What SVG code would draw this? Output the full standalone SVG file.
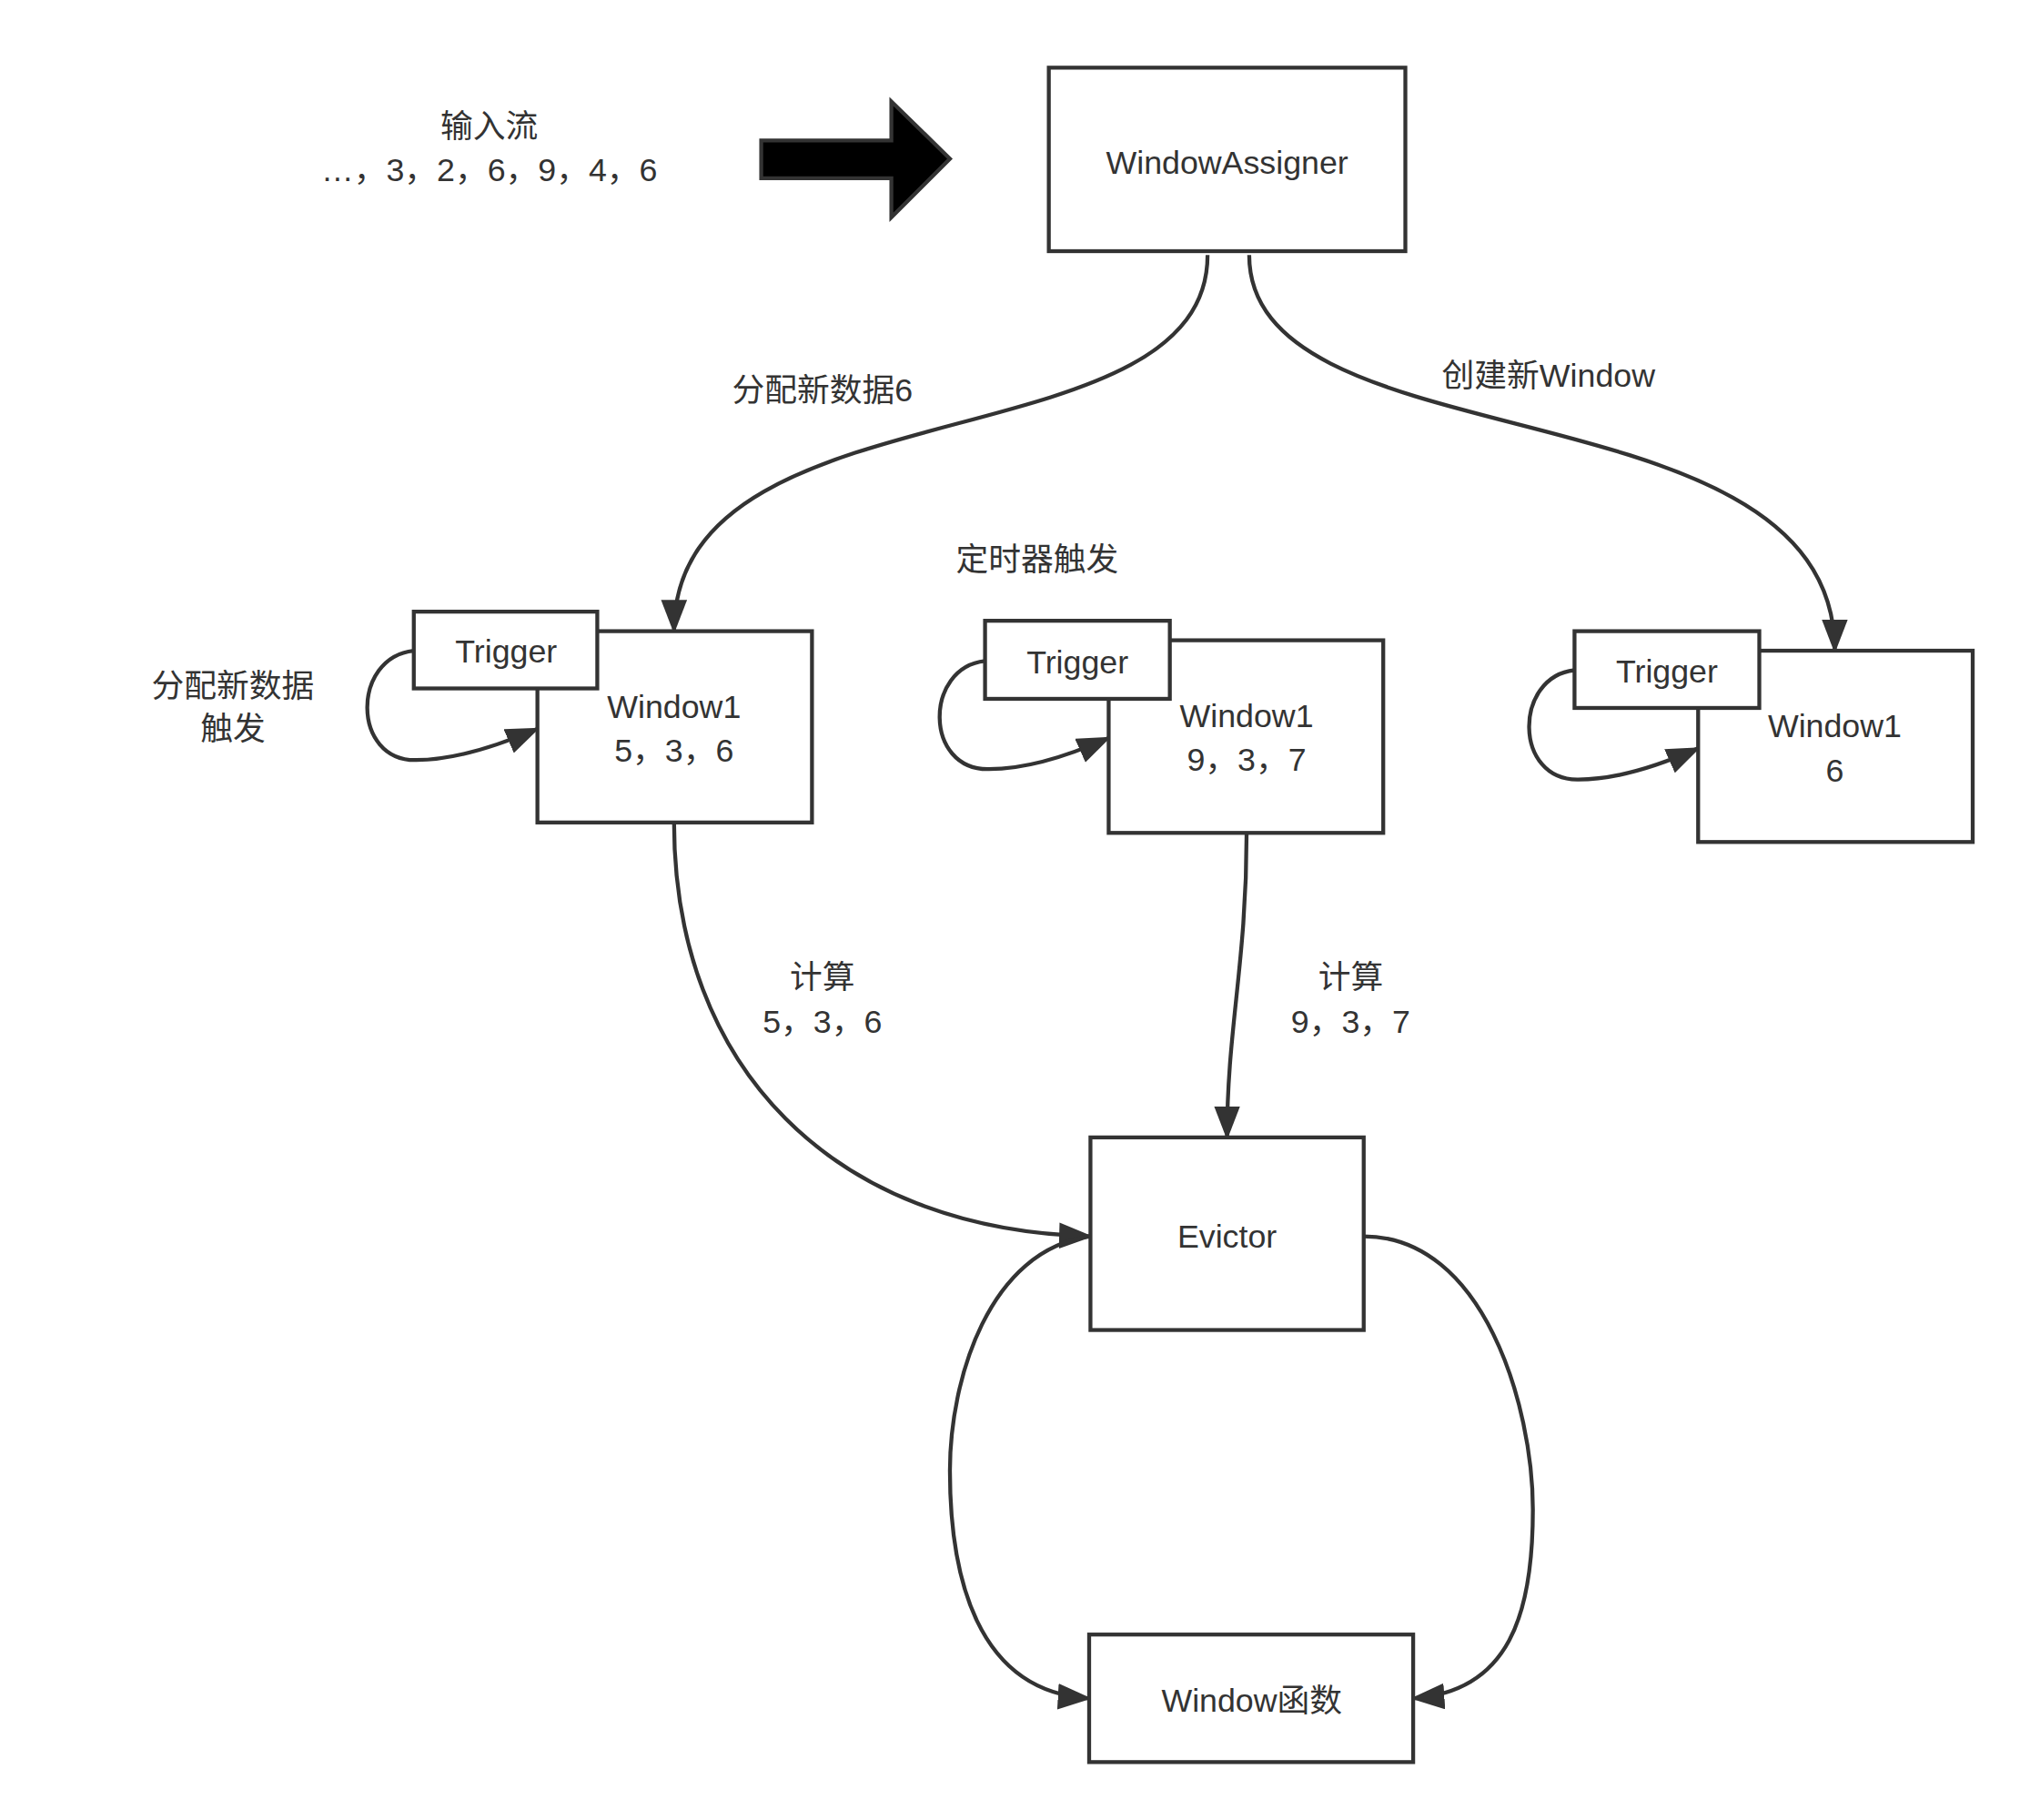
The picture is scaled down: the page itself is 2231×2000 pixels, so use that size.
<svg xmlns="http://www.w3.org/2000/svg" width="2231" height="2000" viewBox="0 0 2231 2000">
<style>
.b{fill:#fff;stroke:#333;stroke-width:3}
.c{fill:none;stroke:#333;stroke-width:3}
.t{font-family:"Liberation Sans","Noto Sans CJK SC",sans-serif;font-size:25px;fill:#333;text-anchor:middle;dominant-baseline:central}
</style>
<defs>
<marker id="a" markerUnits="userSpaceOnUse" markerWidth="26" markerHeight="20" refX="24" refY="10" orient="auto"><path d="M0,0 L26,10 L0,20 Z" fill="#333"/></marker>
</defs>
<rect width="2231" height="2000" fill="#fff"/>
<g transform="scale(1.4301)">
<g id="connectors">
<path class="c" d="M928,196 C928,360 518,290 518,485" marker-end="url(#a)"/>
<path class="c" d="M960,196 C960,360 1410,290 1410,500" marker-end="url(#a)"/>
<path class="c" d="M318,500 C270,505 270,585 320,584 C350,584 385,572 413,560" marker-end="url(#a)"/>
<path class="c" d="M757,508 C710,513 710,592 760,591 C790,591 825,579 852,567" marker-end="url(#a)"/>
<path class="c" d="M1210,515 C1163,520 1163,600 1213,599 C1243,599 1278,587 1305,575" marker-end="url(#a)"/>
<path class="c" d="M518,632 C518,820 640,945 838,950" marker-end="url(#a)"/>
<path class="c" d="M958,640 C958,740 943,790 943,874" marker-end="url(#a)"/>
<path class="c" d="M838,950 C760,960 730,1060 730,1130 C730,1210 750,1300 837,1305" marker-end="url(#a)"/>
<path class="c" d="M1048,950 C1140,950 1178,1080 1178,1160 C1178,1240 1160,1300 1086,1305" marker-end="url(#a)"/>
<polygon points="585,108 685,108 685,78 730,122 685,167 685,137 585,137" fill="#000" stroke="#333" stroke-width="3"/>
</g>
<g id="input"><text class="t" x="376" y="97">输入流</text><text class="t" x="376" y="131">…，3，2，6，9，4，6</text></g>
<g id="windowassigner"><rect class="b" x="806" y="52" width="274" height="141"/><text class="t" x="943" y="125">WindowAssigner</text></g>
<g id="window1a"><rect class="b" x="413" y="485" width="211" height="147"/><text class="t" x="518" y="543">Window1</text><text class="t" x="518" y="577">5，3，6</text></g>
<g id="trigger1"><rect class="b" x="318" y="470" width="141" height="59"/><text class="t" x="389" y="501">Trigger</text></g>
<g id="window1b"><rect class="b" x="852" y="492" width="211" height="148"/><text class="t" x="958" y="550">Window1</text><text class="t" x="958" y="584">9，3，7</text></g>
<g id="trigger2"><rect class="b" x="757" y="477" width="142" height="60"/><text class="t" x="828" y="509">Trigger</text></g>
<g id="window1c"><rect class="b" x="1305" y="500" width="211" height="147"/><text class="t" x="1410" y="558">Window1</text><text class="t" x="1410" y="592">6</text></g>
<g id="trigger3"><rect class="b" x="1210" y="485" width="142" height="59"/><text class="t" x="1281" y="516">Trigger</text></g>
<g id="evictor"><rect class="b" x="838" y="874" width="210" height="148"/><text class="t" x="943" y="950">Evictor</text></g>
<g id="windowfunc"><rect class="b" x="837" y="1256" width="249" height="98"/><text class="t" x="962" y="1307">Window函数</text></g>
<g id="labels">
<text class="t" x="632" y="300">分配新数据6</text>
<text class="t" x="1190" y="289">创建新Window</text>
<text class="t" x="797" y="430">定时器触发</text>
<text class="t" x="179" y="527">分配新数据</text><text class="t" x="179" y="560">触发</text>
<text class="t" x="632" y="751">计算</text><text class="t" x="632" y="785">5，3，6</text>
<text class="t" x="1038" y="751">计算</text><text class="t" x="1038" y="785">9，3，7</text>
</g>
</g>
</svg>
